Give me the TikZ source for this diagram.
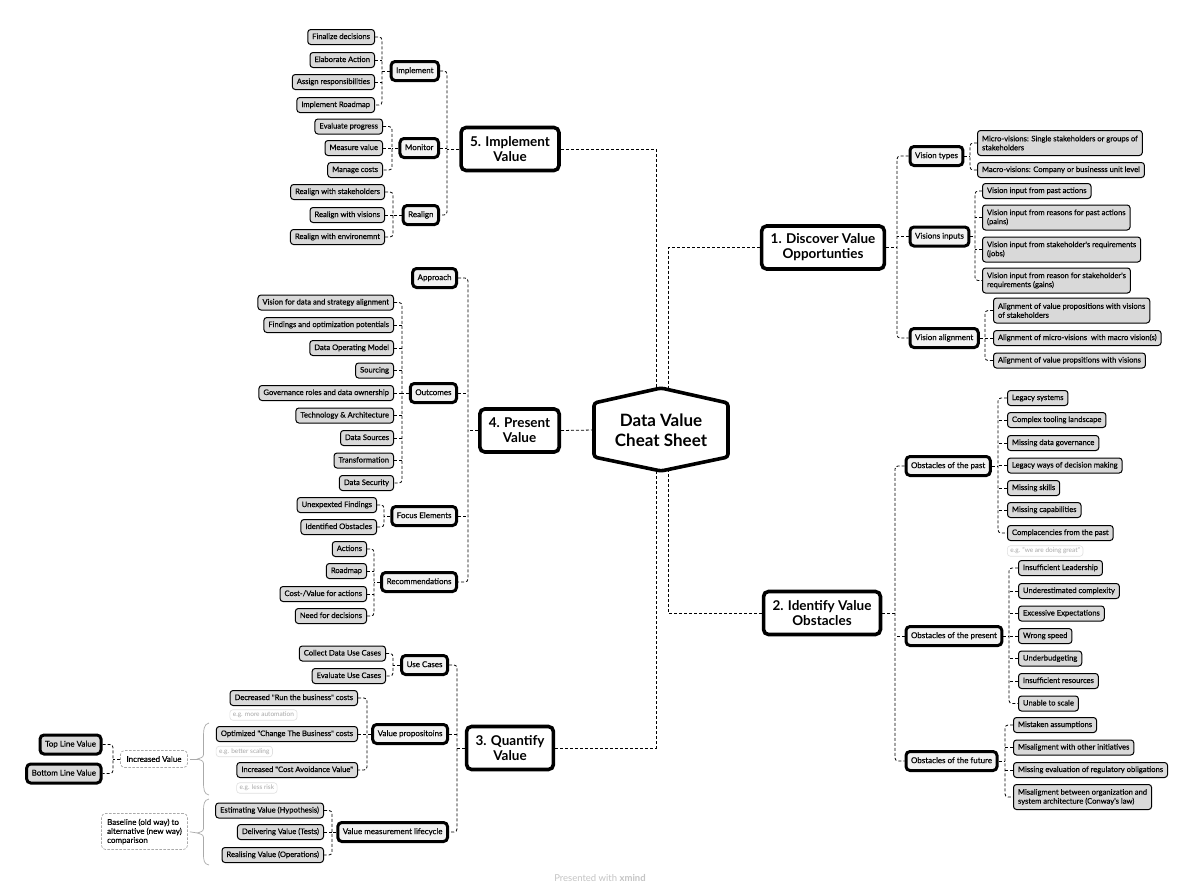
\documentclass[tikz,border=0pt]{standalone}
\usepackage{fontspec}
\setmainfont{Lato}
\newfontfamily\medfont[FakeBold=0.25]{Lato}
\usetikzlibrary{calc}
\definecolor{leafgray}{HTML}{D9D9D9}
\definecolor{subfill}{HTML}{F2F2F2}
\definecolor{notegray}{HTML}{A8A8A8}
\definecolor{noteline}{HTML}{E0E0E0}
\definecolor{sumgray}{HTML}{AAAAAA}
\definecolor{footgray}{HTML}{C4C4C4}
\tikzset{
 conn/.style={draw=black, line width=0.8pt, dash pattern=on 3pt off 2pt},
 bconn/.style={conn, rounded corners=3pt},
 leafbase/.style={draw=black, line width=1pt, fill=leafgray, rounded corners=3pt, inner xsep=4.5pt, font=\medfont\fontsize{7.6}{9}\selectfont},
 leaf/.style={leafbase, minimum height=15pt, inner ysep=0pt, text height=5.7pt, text depth=1.7pt},
 leaftwo/.style={leafbase, align=left, minimum height=25pt, inner ysep=2pt},
 sub/.style={draw=black, line width=3pt, fill=subfill, rounded corners=4pt, minimum height=19pt, inner ysep=0pt, inner xsep=5pt, text height=5.9pt, text depth=1.7pt, font=\medfont\fontsize{8}{9.5}\selectfont},
 subgray/.style={sub, fill=leafgray},
 mainbox/.style={draw=black, line width=3.6pt, fill=white, rounded corners=5pt, minimum height=43pt, inner xsep=9pt, align=center, font=\bfseries\fontsize{13.5}{15}\selectfont},
 note/.style={draw=noteline, line width=0.6pt, rounded corners=3pt, text=notegray, font=\fontsize{6.5}{7}\selectfont, minimum height=10.5pt, inner xsep=3pt, inner ysep=0pt, text height=4.8pt, text depth=1.3pt},
 sumnode/.style={draw=sumgray, dash pattern=on 2.5pt off 1.5pt, line width=0.7pt, rounded corners=4pt, fill=white, font=\medfont\fontsize{8}{9.4}\selectfont},
 sumline/.style={draw=sumgray, line width=0.7pt},
}
\begin{document}
\begin{tikzpicture}[x=1pt,y=-1pt]
\useasboundingbox (0,0) rectangle (1200,894);
\fill[white] (0,0) rectangle (1200,894);

% ---------- central hexagon ----------
\draw[line width=3.6pt, rounded corners=3pt, fill=white] (661,388) -- (728,403) -- (728,457) -- (661,471) -- (594,457) -- (594,403) -- cycle;
\node[align=center, font=\bfseries\fontsize{17}{19.5}\selectfont] (center) at (661,430) {Data Value\\Cheat Sheet};
\coordinate (hT1) at (656,389.5);
\coordinate (hT2) at (668,389.5);
\coordinate (hB1) at (656,470);
\coordinate (hB2) at (668,470);
\coordinate (hL) at (594,430);

% ---------- main topics ----------
\node[mainbox] (ImplV) at (510,149) {5. Implement\\Value};
\node[mainbox] (PresV) at (519.5,430.5) {4. Present\\Value};
\node[mainbox] (QuantV) at (510,748) {3. Quantify\\Value};
\node[mainbox] (DiscV) at (823,247.5) {1. Discover Value\\Opportunties};
\node[mainbox] (IdV) at (822,613) {2. Identify Value\\Obstacles};

\draw[conn] (ImplV.east) -| (hT1);
\draw[conn] (DiscV.west) -| (hT2);
\draw[conn] (IdV.west) -| (hB2);
\draw[conn] (QuantV.east) -| (hB1);
\draw[conn] (PresV.east) -- (hL);

% ================= 5. Implement Value =================
\node[sub, anchor=east] (Imp) at (440,71) {Implement};
\node[sub, anchor=east] (Mon) at (440,148) {Monitor};
\node[sub, anchor=east] (Rea) at (440,215) {Realign};
\coordinate (vI) at (447,0);
\draw[bconn] (Imp.east) -| (vI |- Rea.east) -- (Rea.east);
\draw[conn] (Mon.east) -- (Mon.east -| vI);
\draw[conn] (ImplV.west) -- (ImplV.west -| vI);

\node[leaf, anchor=east] (i1) at (375,37) {Finalize decisions};
\node[leaf, anchor=east] (i2) at (375,60) {Elaborate Action};
\node[leaf, anchor=east] (i3) at (375,82) {Assign responsibilities};
\node[leaf, anchor=east] (i4) at (375,105) {Implement Roadmap};
\coordinate (vIa) at (382,0);
\draw[bconn] (i1.east) -| (vIa |- i4.east) -- (i4.east);
\foreach \n in {i2,i3} \draw[conn] (\n.east) -- (\n.east -| vIa);
\draw[conn] (Imp.west) -- (Imp.west -| vIa);

\node[leaf, anchor=east] (m1) at (383,126.5) {Evaluate progress};
\node[leaf, anchor=east] (m2) at (383,148) {Measure value};
\node[leaf, anchor=east] (m3) at (383,170) {Manage costs};
\coordinate (vIb) at (392,0);
\draw[bconn] (m1.east) -| (vIb |- m3.east) -- (m3.east);
\draw[conn] (m2.east) -- (m2.east -| vIb);
\draw[conn] (Mon.west) -- (Mon.west -| vIb);

\node[leaf, anchor=east] (r1) at (385,192) {Realign with stakeholders};
\node[leaf, anchor=east] (r2) at (385,215) {Realign with visions};
\node[leaf, anchor=east] (r3) at (385,237) {Realign with environemnt};
\coordinate (vIc) at (393,0);
\draw[bconn] (r1.east) -| (vIc |- r3.east) -- (r3.east);
\draw[conn] (r2.east) -- (r2.east -| vIc);
\draw[conn] (Rea.west) -- (Rea.west -| vIc);

% ================= 4. Present Value =================
\node[sub, anchor=east] (App) at (458,278) {Approach};
\node[sub, anchor=east] (Out) at (458,393) {Outcomes};
\node[sub, anchor=east] (Foc) at (458,516) {Focus Elements};
\node[sub, anchor=east] (Rec) at (458,582) {Recommendations};
\coordinate (vP) at (468,0);
\draw[bconn] (App.east) -| (vP |- Rec.east) -- (Rec.east);
\foreach \n in {Out,Foc} \draw[conn] (\n.east) -- (\n.east -| vP);
\draw[conn] (PresV.west) -- (PresV.west -| vP);

\node[leaf, anchor=east] (o1) at (394,302.5) {Vision for data and strategy alignment};
\node[leaf, anchor=east] (o2) at (394,325) {Findings and optimization potentials};
\node[leaf, anchor=east] (o3) at (394,348) {Data Operating Model};
\node[leaf, anchor=east] (o4) at (394,370.5) {Sourcing};
\node[leaf, anchor=east] (o5) at (394,393) {Governance roles and data ownership};
\node[leaf, anchor=east] (o6) at (394,415.5) {Technology \& Architecture};
\node[leaf, anchor=east] (o7) at (394,438) {Data Sources};
\node[leaf, anchor=east] (o8) at (394,460.5) {Transformation};
\node[leaf, anchor=east] (o9) at (394,483) {Data Security};
\coordinate (vPo) at (402,0);
\draw[bconn] (o1.east) -| (vPo |- o9.east) -- (o9.east);
\foreach \n in {o2,o3,o4,o5,o6,o7,o8} \draw[conn] (\n.east) -- (\n.east -| vPo);
\draw[conn] (Out.west) -- (Out.west -| vPo);

\node[leaf, anchor=east] (f1) at (377,505) {Unexpexted Findings};
\node[leaf, anchor=east] (f2) at (377,527) {Identified Obstacles};
\coordinate (vPf) at (384,0);
\draw[bconn] (f1.east) -| (vPf |- f2.east) -- (f2.east);
\draw[conn] (Foc.west) -- (Foc.west -| vPf);

\node[leaf, anchor=east] (c1) at (367,549) {Actions};
\node[leaf, anchor=east] (c2) at (367,571) {Roadmap};
\node[leaf, anchor=east] (c3) at (367,594) {Cost-/Value for actions};
\node[leaf, anchor=east] (c4) at (367,616) {Need for decisions};
\coordinate (vPr) at (374,0);
\draw[bconn] (c1.east) -| (vPr |- c4.east) -- (c4.east);
\foreach \n in {c2,c3} \draw[conn] (\n.east) -- (\n.east -| vPr);
\draw[conn] (Rec.west) -- (Rec.west -| vPr);

% ================= 3. Quantify Value =================
\node[sub, anchor=east] (Use) at (449,665) {Use Cases};
\node[sub, anchor=east] (Vpr) at (449,734) {Value propositoins};
\node[sub, anchor=east] (Vml) at (449,832) {Value measurement lifecycle};
\coordinate (vQ) at (457,0);
\draw[bconn] (Use.east) -| (vQ |- Vml.east) -- (Vml.east);
\draw[conn] (Vpr.east) -- (Vpr.east -| vQ);
\draw[conn] (QuantV.west) -- (QuantV.west -| vQ);

\node[leaf, anchor=east] (u1) at (386,653.5) {Collect Data Use Cases};
\node[leaf, anchor=east] (u2) at (386,676) {Evaluate Use Cases};
\coordinate (vQu) at (393,0);
\draw[bconn] (u1.east) -| (vQu |- u2.east) -- (u2.east);
\draw[conn] (Use.west) -- (Use.west -| vQu);

\node[leaf, anchor=east] (p1) at (358,698) {Decreased "Run the business" costs};
\node[leaf, anchor=east] (p2) at (358,734) {Optimized "Change The Business" costs};
\node[leaf, anchor=east] (p3) at (358,770) {Increased "Cost Avoidance Value"};
\coordinate (vQp) at (367,0);
\draw[bconn] (p1.east) -| (vQp |- p3.east) -- (p3.east);
\draw[conn] (p2.east) -- (p2.east -| vQp);
\draw[conn] (Vpr.west) -- (Vpr.west -| vQp);
\node[note, anchor=west] (n1) at (p1.west |- 0,715) {e.g. more automation};
\node[note, anchor=west] (n2) at (p2.west |- 0,751.5) {e.g. better scaling};
\node[note, anchor=west] (n3) at (p3.west |- 0,788) {e.g. less risk};

\node[leaf, anchor=east] (l1) at (324,810.5) {Estimating Value (Hypothesis)};
\node[leaf, anchor=east] (l2) at (324,832) {Delivering Value (Tests)};
\node[leaf, anchor=east] (l3) at (324,855) {Realising Value (Operations)};
\coordinate (vQl) at (332,0);
\draw[bconn] (l1.east) -| (vQl |- l3.east) -- (l3.east);
\draw[conn] (l2.east) -- (l2.east -| vQl);
\draw[conn] (Vml.west) -- (Vml.west -| vQl);

% summary braces
\coordinate (b1tip) at (197.5,759);
\draw[sumline] (209,723) .. controls (204,724) and (203.5,729) .. (203.5,738) -- (203.5,752) .. controls (203.5,757) .. (b1tip) .. controls (203.5,761) .. (203.5,766) -- (203.5,781) .. controls (203.5,790) and (204,794) .. (209,795);
\coordinate (b2tip) at (197.5,833);
\draw[sumline] (209,799) .. controls (204,800) and (203.5,804) .. (203.5,811) -- (203.5,826) .. controls (203.5,831) .. (b2tip) .. controls (203.5,835) .. (203.5,840) -- (203.5,853) .. controls (203.5,861) and (204,864) .. (209,865);

\node[sumnode, minimum width=67pt, minimum height=17pt] (IncV) at (154,759) {Increased Value};
\node[sumnode, align=left, minimum width=86pt, minimum height=36pt, font=\medfont\fontsize{8}{9}\selectfont] (Base) at (144.5,831.5) {Baseline (old way) to\\alternative (new way)\\comparison};
\draw[sumline, shorten <=2pt] (IncV.east) -- (b1tip);
\draw[sumline, shorten <=2pt] (Base.east) -- (b2tip);

\node[subgray, anchor=east] (TopL) at (102.5,744.5) {Top Line Value};
\node[subgray, anchor=east] (BotL) at (102.5,773.5) {Bottom Line Value};
\coordinate (vS) at (113,0);
\draw[bconn] (TopL.east) -| (vS |- BotL.east) -- (BotL.east);
\draw[conn] (IncV.west) -- (IncV.west -| vS);

% ================= 1. Discover Value Opportunities =================
\node[sub, anchor=west] (VT) at (908.5,156) {Vision types};
\node[sub, anchor=west] (VI) at (908.5,236.5) {Visions inputs};
\node[sub, anchor=west] (VA) at (908.5,338) {Vision alignment};
\coordinate (vD) at (897,0);
\draw[bconn] (VT.west) -| (vD |- VA.west) -- (VA.west);
\draw[conn] (VI.west) -- (VI.west -| vD);
\draw[conn] (DiscV.east) -- (DiscV.east -| vD);

\node[leaftwo, anchor=west] (t1) at (977,143) {Micro-visions: Single stakeholders or groups of\\stakeholders};
\node[leaf, anchor=west] (t2) at (977,170) {Macro-visions: Company or businesss unit level};
\coordinate (vDt) at (970,0);
\draw[bconn] (t1.west) -| (vDt |- t2.west) -- (t2.west);
\draw[conn] (VT.east) -- (VT.east -| vDt);

\node[leaf, anchor=west] (s1) at (982,191) {Vision input from past actions};
\node[leaftwo, anchor=west] (s2) at (982,217.5) {Vision input from reasons for past actions\\(pains)};
\node[leaftwo, anchor=west] (s3) at (982,249.5) {Vision input from stakeholder's requirements\\(jobs)};
\node[leaftwo, anchor=west] (s4) at (982,280.5) {Vision input from reason for stakeholder's\\requirements (gains)};
\coordinate (vDs) at (975,0);
\draw[bconn] (s1.west) -| (vDs |- s4.west) -- (s4.west);
\foreach \n in {s2,s3} \draw[conn] (\n.west) -- (\n.west -| vDs);
\draw[conn] (VI.east) -- (VI.east -| vDs);

\node[leaftwo, anchor=west] (a1) at (993,310.5) {Alignment of value propositions with visions\\of stakeholders};
\node[leaf, anchor=west] (a2) at (993,338) {Alignment of micro-visions\ \ with macro vision(s)};
\node[leaf, anchor=west] (a3) at (993,360.5) {Alignment of value propsitions with visions};
\coordinate (vDa) at (985,0);
\draw[bconn] (a1.west) -| (vDa |- a3.west) -- (a3.west);
\draw[conn] (a2.west) -- (a2.west -| vDa);
\draw[conn] (VA.east) -- (VA.east -| vDa);

% ================= 2. Identify Value Obstacles =================
\node[sub, anchor=west] (OP) at (904.5,466) {Obstacles of the past};
\node[sub, anchor=west] (OR) at (904.5,636) {Obstacles of the present};
\node[sub, anchor=west] (OF) at (904.5,761) {Obstacles of the future};
\coordinate (vO) at (895,0);
\draw[bconn] (OP.west) -| (vO |- OF.west) -- (OF.west);
\draw[conn] (OR.west) -- (OR.west -| vO);
\draw[conn] (IdV.east) -- (IdV.east -| vO);

\node[leaf, anchor=west] (q1) at (1007,398) {Legacy systems};
\node[leaf, anchor=west] (q2) at (1007,420) {Complex tooling landscape};
\node[leaf, anchor=west] (q3) at (1007,443) {Missing data governance};
\node[leaf, anchor=west] (q4) at (1007,465.5) {Legacy ways of decision making};
\node[leaf, anchor=west] (q5) at (1007,488) {Missing skills};
\node[leaf, anchor=west] (q6) at (1007,510) {Missing capabilities};
\node[leaf, anchor=west] (q7) at (1007,533) {Complacencies from the past};
\node[note, anchor=west] (n4) at (1007,551) {e.g. "we are doing great"};
\coordinate (vOp) at (998,0);
\draw[bconn] (q1.west) -| (vOp |- q7.west) -- (q7.west);
\foreach \n in {q2,q3,q4,q5,q6} \draw[conn] (\n.west) -- (\n.west -| vOp);
\draw[conn] (OP.east) -- (OP.east -| vOp);

\node[leaf, anchor=west] (w1) at (1018,568) {Insufficient Leadership};
\node[leaf, anchor=west] (w2) at (1018,591) {Underestimated complexity};
\node[leaf, anchor=west] (w3) at (1018,613.5) {Excessive Expectations};
\node[leaf, anchor=west] (w4) at (1018,636) {Wrong speed};
\node[leaf, anchor=west] (w5) at (1018,658.5) {Underbudgeting};
\node[leaf, anchor=west] (w6) at (1018,681) {Insufficient resources};
\node[leaf, anchor=west] (w7) at (1018,703.5) {Unable to scale};
\coordinate (vOr) at (1009,0);
\draw[bconn] (w1.west) -| (vOr |- w7.west) -- (w7.west);
\foreach \n in {w2,w3,w4,w5,w6} \draw[conn] (\n.west) -- (\n.west -| vOr);
\draw[conn] (OR.east) -- (OR.east -| vOr);

\node[leaf, anchor=west] (z1) at (1013,725) {Mistaken assumptions};
\node[leaf, anchor=west] (z2) at (1013,747.5) {Misaligment with other initiatives};
\node[leaf, anchor=west] (z3) at (1013,770) {Missing evaluation of regulatory obligations};
\node[leaftwo, anchor=west] (z4) at (1013,797) {Misaligment between organization and\\system architecture (Conway's law)};
\coordinate (vOf) at (1005,0);
\draw[bconn] (z1.west) -| (vOf |- z4.west) -- (z4.west);
\foreach \n in {z2,z3} \draw[conn] (\n.west) -- (\n.west -| vOf);
\draw[conn] (OF.east) -- (OF.east -| vOf);

% footer
\node[text=footgray, font=\fontsize{9.5}{11}\selectfont] (foot) at (600,877.5) {Presented with \textbf{xmind}};
\end{tikzpicture}
\end{document}
